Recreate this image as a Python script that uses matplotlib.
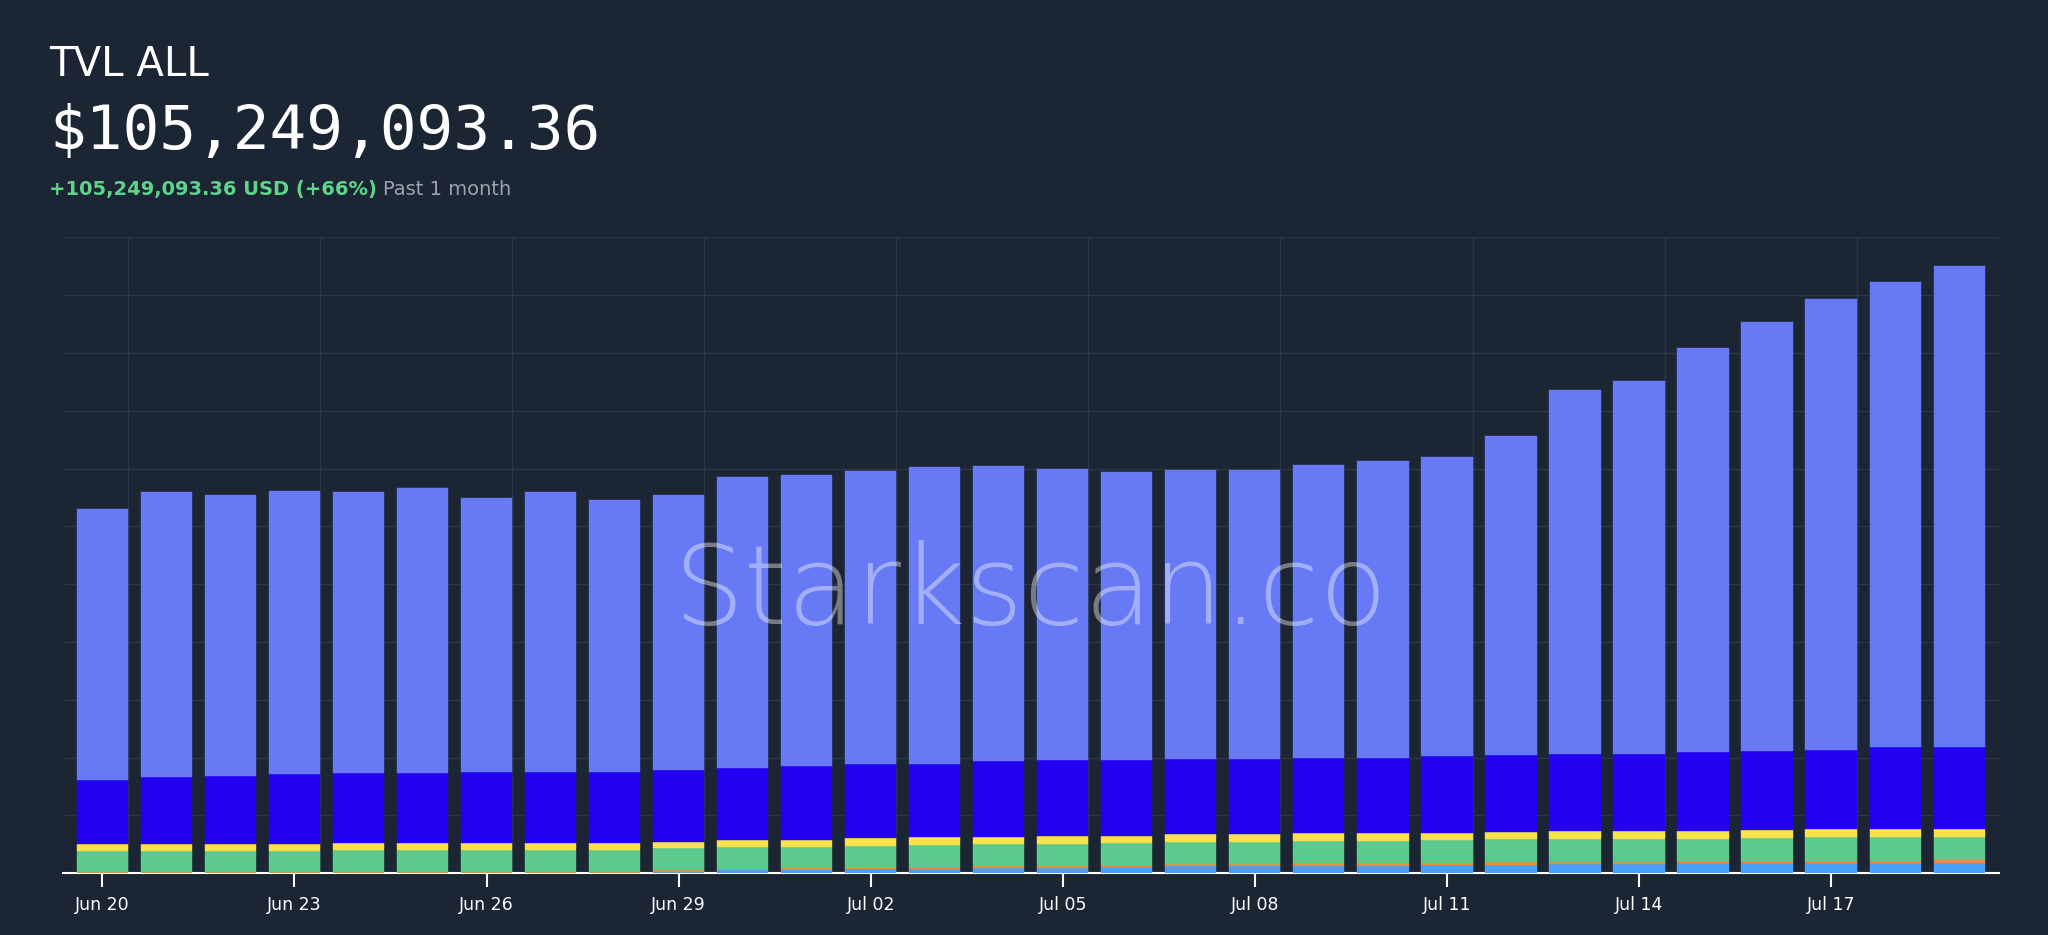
import numpy as np
import pandas as pd
import matplotlib
matplotlib.use('Agg')
import matplotlib.pyplot as plt

# valores em milhões de USD (Jun 20 .. Jul 19)
dias = pd.date_range('2023-06-20', '2023-07-19', freq='D')
azul_claro = [0, 0, 0, 0, 0, 0, 0, 0, 0, 0.3, 0.5, 0.6, 0.7, 0.8, 0.9,
              1.0, 1.1, 1.2, 1.2, 1.3, 1.3, 1.4, 1.5, 1.6, 1.6, 1.7, 1.7, 1.8, 1.8, 1.85]
laranja = [0.3] * 17 + [0.4] * 13
verde = [3.6, 3.6, 3.6, 3.6, 3.7, 3.7, 3.7, 3.8, 3.8, 3.7, 3.7, 3.7, 3.8, 3.8, 3.8,
         3.8, 3.8, 3.9, 3.9, 3.9, 3.9, 3.9, 4.0, 4.0, 3.9, 3.9, 4.0, 4.0, 4.0, 4.0]
amarelo = [1.2] * 12 + [1.3] * 11 + [1.4] * 7
azul_escuro = [11.1, 11.6, 11.8, 12.0, 12.1, 12.1, 12.4, 12.3, 12.3, 12.3, 12.5, 12.7, 12.8, 12.7, 13.1,
               13.2, 13.1, 13.0, 13.0, 13.1, 13.1, 13.3, 13.3, 13.3, 13.4, 13.5, 13.7, 13.8, 14.2, 14.15]
roxo = [46.9, 49.3, 48.6, 49.1, 48.7, 49.4, 47.3, 48.4, 47.0, 47.7, 50.3, 50.4, 50.7, 51.4, 51.1,
        50.4, 49.8, 50.0, 50.0, 50.7, 51.4, 51.8, 55.2, 62.9, 64.4, 69.9, 74.1, 77.9, 80.5, 83.2]

camadas = [azul_claro, laranja, verde, amarelo, azul_escuro, roxo]
cores = ['#48a0f8', '#f08a30', '#5cc98e', '#fbe24a', '#2300ef', '#6779f4']

bg = '#1b2533'
fig = plt.figure(figsize=(20.48, 9.35), dpi=100, facecolor=bg)
ax = fig.add_axes([0.0306, 0.066, 0.9454, 0.680], facecolor=bg)

x = np.arange(len(dias))
base = np.zeros(len(dias))
for vals, c in zip(camadas, cores):
    ax.bar(x, vals, bottom=base, width=0.8, color=c, edgecolor=c, linewidth=0.3, zorder=3)
    base += np.array(vals)

ax.set_xlim(-0.62, 29.62)
ax.set_ylim(0, 110)
ax.set_yticks(np.arange(0, 111, 10))
ax.set_yticklabels([])
ax.tick_params(axis='y', length=0)
ticks = x[::3]
ax.set_xticks(ticks)
ax.set_xticklabels([d.strftime('%b %d') for d in dias[::3]], color='white', fontsize=12.5)
ax.tick_params(axis='x', colors='white', length=10, width=1.5, pad=6)
ax.grid(axis='y', color='#2b3647', linewidth=1, zorder=0)
for t in ticks:
    ax.axvline(t + 0.4, color='#2b3647', linewidth=1, zorder=0)
for s in ['top', 'right', 'left']:
    ax.spines[s].set_visible(False)
ax.spines['bottom'].set_color('white')
ax.spines['bottom'].set_linewidth(1.5)

ax.text(0.5, 0.44, 'Starkscan.co', transform=ax.transAxes, ha='center', va='center',
        fontsize=80, color='white', alpha=0.4, zorder=5, fontweight='light')

fig.text(0.024, 0.93, 'TVL ALL', color='white', fontsize=29, va='center')
fig.text(0.024, 0.858, '$105,249,093.36', color='white', fontsize=44, va='center',
         family='DejaVu Sans Mono')
t1 = fig.text(0.024, 0.797, '+105,249,093.36 USD (+66%)', color='#5fd38a', fontsize=14,
              fontweight='bold', va='center')
fig.canvas.draw()
bb = t1.get_window_extent().transformed(fig.transFigure.inverted())
fig.text(bb.x1 + 0.003, 0.797, 'Past 1 month', color='#9aa3ae', fontsize=14, va='center')

fig.savefig('out.png', dpi=100, facecolor=bg)
